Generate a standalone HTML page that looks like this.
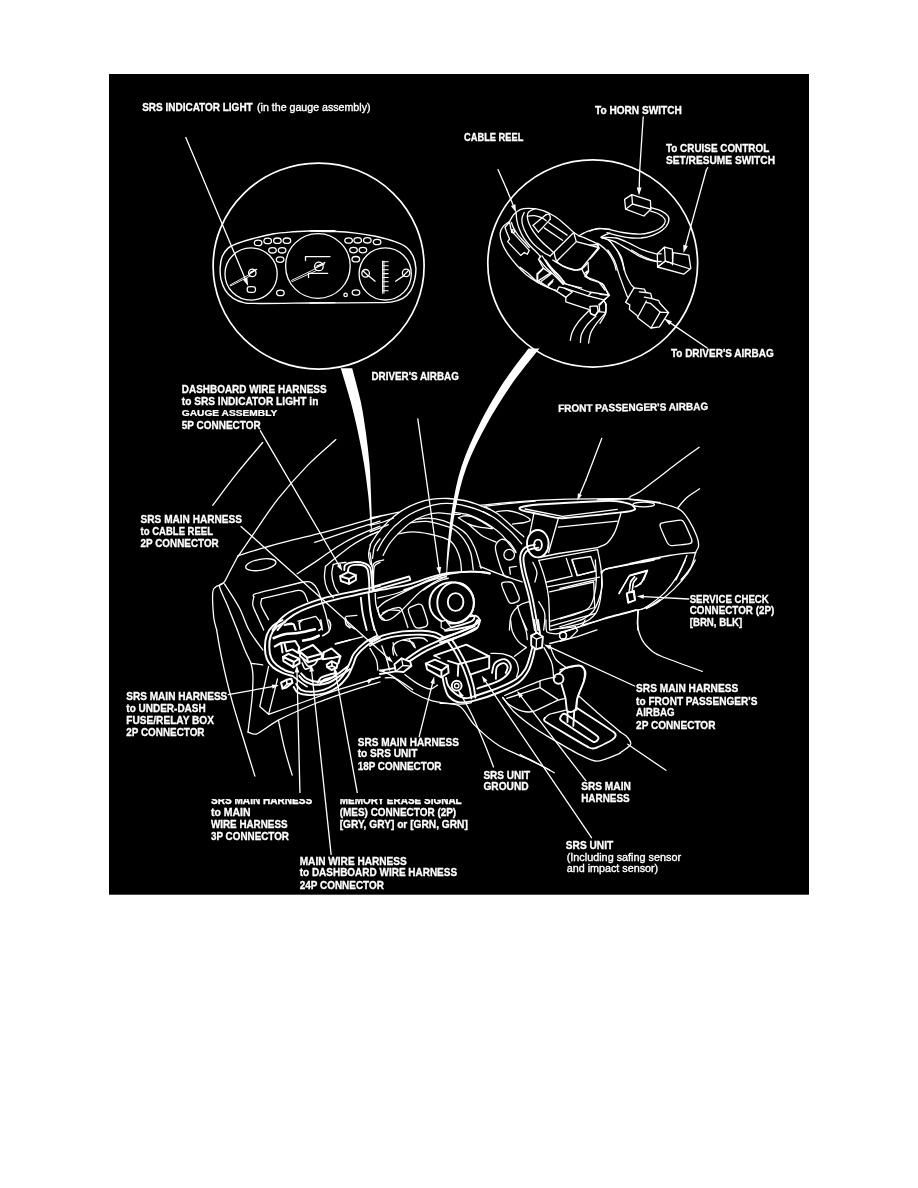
<!DOCTYPE html>
<html lang="en"><head><meta charset="utf-8"><title>SRS Component Locations</title>
<style>
html,body{margin:0;padding:0;background:#fff;}
body{width:918px;height:1188px;overflow:hidden;position:relative;}
svg{position:absolute;left:0;top:0;display:block;will-change:transform;}
.t{font-family:"Liberation Sans",Arial,Helvetica,sans-serif;font-size:10.6px;fill:#fff;}
.b{font-weight:bold;stroke:#fff;stroke-width:0.3px;}
.n{stroke:#fff;stroke-width:0.35px;}
.l{fill:none;stroke:#fff;stroke-width:1.3;stroke-linecap:round;stroke-linejoin:round;}
.w{fill:#fff;stroke:none;}
.k{fill:#000;stroke:#fff;stroke-width:1.15;stroke-linejoin:round;}
</style></head><body>
<svg width="918" height="1188" viewBox="0 0 918 1188">
<rect x="109" y="74" width="700" height="820.7" fill="#000"/>
<!-- 00_base.py -->
<ellipse class="l" style="stroke-width:1.7" cx="318.6" cy="266.1" rx="105.5" ry="103"/>
<ellipse class="l" style="stroke-width:1.7" cx="592.7" cy="263.5" rx="104.9" ry="103.6"/>
<path class="w" d="M340.7,368.2 C342.4,373.8 347.8,390.9 350.7,401.7 C353.6,412.5 355.9,422.4 358.1,432.8 C360.3,443.2 362.3,453.5 364,463.9 C365.7,474.3 367.2,486 368.2,495.1 C369.2,504.2 369.6,512.2 370.1,518.4 C370.6,524.5 371,529.7 371.2,532 L371.8,532 C371.8,529.7 371.8,524.5 371.7,518.4 C371.6,512.2 371.4,504.2 371,495.1 C370.6,486 370.4,474.3 369.5,463.9 C368.6,453.5 367.3,443.2 365.9,432.8 C364.4,422.4 363.1,412.5 360.8,401.7 C358.5,390.9 353.6,373.8 352.2,368.2 Z"/>
<path class="w" d="M528.5,348.4 C524.4,354 511.9,369.5 503.7,382.1 C495.5,394.7 486.5,410.2 479.5,424.2 C472.5,438.2 466.2,452.3 461.6,466.3 C457,480.3 454.5,494.4 452.1,508.4 C449.7,522.4 448.3,538.9 447.3,550.5 C446.3,562.1 446.4,573.4 446.2,578 L446.8,578 C447.2,573.4 447.9,562.1 449.4,550.5 C450.9,538.9 452.8,522.4 455.7,508.4 C458.6,494.4 461.6,480.3 466.8,466.3 C472,452.3 479.1,438.2 486.8,424.2 C494.5,410.2 504.4,394.7 513.2,382.1 C522,369.5 535.1,354 539.5,348.4 Z"/>
<!-- 01_gauges.py -->
<path class="l" style="stroke-width:1.4" d="M335,230.7 C331.3,230.7 320,230.5 313,230.7 C306.1,230.9 300,231.3 293.4,231.8 C286.9,232.3 280.4,232.6 273.8,233.7 C267.3,234.8 260.3,236.7 254.2,238.3 C248.1,239.9 241.6,241.9 237.2,243.5 C232.9,245.2 230.6,245.9 228.1,248.1 C225.6,250.3 223.5,253.4 222.2,256.6 C220.9,259.8 220.4,263.4 220.2,267.1 C220,270.8 220,274.9 220.9,278.8 C221.8,282.7 223.4,287.3 225.5,290.6 C227.5,293.9 230.3,296.4 233.3,298.4 C236.4,300.4 240.3,301.8 243.8,302.6 C247.2,303.4 245.9,303.3 254.2,303.4 C262.5,303.5 280,303.3 293.4,303.1 C306.9,303 328.1,302.7 335,302.6"/>
<circle class="l" cx="251.1" cy="274" r="26.1"/>
<circle class="l" cx="252.3" cy="272.9" r="3.7"/>
<path class="l" style="stroke-width:0.9" d="M249.2,274.6 L230,285 L230.4,286 L250.3,275.9"/>
<path class="l" d="M249.6,273.9 L254.9,270.3"/>
<path class="l" d="M250.3,272.3 L256.6,269.4"/>
<path class="l" d="M248.3,286.9 C249,286.8 253.5,286.8 254.2,286.9 C254.9,287.1 255.2,287.8 255.3,288.2 C255.4,288.6 255.4,290.5 255.3,290.8 C255.1,291.2 254.6,292 254,292.2 C253.3,292.3 249.4,292.3 248.7,292.2 C248.1,292 247.5,291.2 247.4,290.8 C247.3,290.5 247.3,288.6 247.4,288.2 C247.5,287.8 247.7,287.1 248.3,286.9 Z"/>
<ellipse class="l" cx="258.1" cy="242.9" rx="3.8" ry="2.7"/>
<ellipse class="l" cx="267.7" cy="240.9" rx="3.8" ry="2.7"/>
<ellipse class="l" cx="277.4" cy="240.7" rx="3.8" ry="2.7"/>
<ellipse class="l" cx="286.9" cy="240.7" rx="3.8" ry="2.7"/>
<ellipse class="l" cx="272.5" cy="250.3" rx="3.8" ry="2.7"/>
<ellipse class="l" cx="282.1" cy="250.3" rx="3.8" ry="2.7"/>
<ellipse class="l" cx="280.1" cy="259.6" rx="3.8" ry="2.7"/>
<ellipse class="l" cx="280.4" cy="292.9" rx="3.8" ry="2.7"/>
<circle class="l" cx="317.9" cy="266" r="32.3"/>
<circle class="l" cx="318.9" cy="266.4" r="4.3"/>
<path class="l" style="stroke-width:0.9" d="M315.7,268.6 L291.5,280.4 L292.1,281.7 L317,270.3"/>
<path class="l" d="M315.9,267.7 L324.2,263.8"/>
<path class="l" d="M317,266 L324.8,262.5"/>
<path class="l" d="M305.5,260.5 L305.5,256.6 L330,256.6"/>
<path class="l" d="M308.5,277.5 L308.5,273.3 L327.7,273.3"/>
<path class="l" d="M185.8,137.5 L245.1,278.6"/>
<path class="w" d="M248.2,286 L242.9,279.6 L247.3,277.7 Z"/>
<path class="l" style="stroke-width:1.4" d="M310,231.1 C314.4,231.2 328.5,231.2 336.1,231.5 C343.8,231.8 349.2,232.3 355.8,233.1 C362.3,233.9 368.8,234.9 375.4,236.3 C381.9,237.8 389.7,239.7 395,241.6 C400.2,243.4 403.7,244.9 406.7,247.5 C409.8,250 411.7,253.1 413.3,256.6 C414.8,260.1 415.7,264.4 415.9,268.4 C416.1,272.3 415.4,276.4 414.6,280.1 C413.7,283.8 412.6,287.5 410.7,290.6 C408.7,293.6 406.1,296.5 402.8,298.4 C399.5,300.3 395.6,301.4 391,302.1 C386.5,302.8 388.9,302.5 375.4,302.6 C361.9,302.8 320.9,302.9 310,303"/>
<circle class="l" cx="385.2" cy="273.9" r="26.1"/>
<ellipse class="l" cx="348.6" cy="240.5" rx="3.8" ry="2.7"/>
<ellipse class="l" cx="357.7" cy="240.3" rx="3.8" ry="2.7"/>
<ellipse class="l" cx="367.3" cy="240.3" rx="3.8" ry="2.7"/>
<ellipse class="l" cx="377.1" cy="242" rx="3.8" ry="2.7"/>
<ellipse class="l" cx="353.5" cy="250.1" rx="3.8" ry="2.7"/>
<ellipse class="l" cx="362.9" cy="250.1" rx="3.8" ry="2.7"/>
<ellipse class="l" cx="355.8" cy="259.2" rx="3.8" ry="2.7"/>
<ellipse class="l" cx="356" cy="292.5" rx="3.8" ry="2.7"/>
<circle class="l" cx="345.6" cy="294.9" r="1.7"/>
<circle class="l" cx="365.6" cy="273.3" r="3.8"/>
<path class="l" d="M362.9,270.7 L368.2,275.9"/>
<path class="l" d="M368.2,275.6 L375.1,281.2"/>
<circle class="l" cx="406.1" cy="272.9" r="3.7"/>
<path class="l" d="M408.7,270.3 L403.5,275.6"/>
<path class="l" d="M403.9,275.6 L395.6,281.2"/>
<path class="l" style="stroke-width:1.2" d="M382.7,261.2 L382.7,293.2"/>
<path class="l" style="stroke-width:0.9" d="M384,261.2 L384,293.2"/>
<path class="l" style="stroke-width:1.1" d="M382.7,261.8 L388.2,261.8"/>
<path class="l" style="stroke-width:1.1" d="M382.7,265.8 L388.2,265.8"/>
<path class="l" style="stroke-width:1.1" d="M382.7,269.7 L388.2,269.7"/>
<path class="l" style="stroke-width:1.1" d="M382.7,273.6 L388.2,273.6"/>
<path class="l" style="stroke-width:1.1" d="M382.7,277.5 L388.2,277.5"/>
<path class="l" style="stroke-width:1.1" d="M382.7,281.7 L388.2,281.7"/>
<path class="l" style="stroke-width:1.1" d="M382.7,286.3 L388.2,286.3"/>
<path class="l" style="stroke-width:1.1" d="M382.7,290.8 L388.2,290.8"/>
<!-- 02_reel.py -->
<path class="l" d="M507,190 L513.1,205.1"/>
<path class="w" d="M516.1,212.5 L510.9,206 L515.4,204.2 Z"/>
<path class="l" d="M509.6,221.4 C508.5,222.2 504.6,224.6 503.1,226.6 C501.5,228.6 500.4,230.5 500.2,233.1 C500,235.8 500.6,239 501.8,242.3 C502.9,245.6 504.6,249 507,252.7 C509.4,256.4 512.9,260.8 516.1,264.5 C519.4,268.2 522.9,271.9 526.6,275 C530.3,278 534.7,280.6 538.4,282.8 C542.1,285 546,286.8 548.8,288 C551.7,289.2 554.3,289.7 555.4,290"/>
<path class="l" d="M509.6,221.4 C510.3,220.3 511.8,216.8 513.5,214.8 C515.3,212.9 517.5,210.7 520.1,209.6 C522.7,208.5 525.5,208.2 529.2,208.3 C532.9,208.4 537.9,208.8 542.3,210.3 C546.6,211.7 551.4,214.3 555.4,216.8 C559.3,219.3 562.8,222.7 565.8,225.3 C568.9,227.9 572.4,231.3 573.7,232.5"/>
<path class="l" d="M516.1,212.9 C516.3,214.1 516.3,217.3 516.8,220.1 C517.3,222.8 518.2,226.2 519.4,229.2 C520.6,232.3 522.1,235.5 524,238.4 C525.8,241.2 528.1,243.6 530.5,246.2 C532.9,248.8 536.7,252.3 538.4,254.1 C540,255.8 540,256.2 540.3,256.7"/>
<path class="l" d="M524.2,212.5 C523.9,213.4 522.3,216 522,218.1 C521.8,220.2 521.9,222.6 522.7,225.3 C523.4,228 524.9,231.4 526.6,234.4 C528.3,237.5 530.5,240.8 533.1,243.6 C535.8,246.4 539.5,249.4 542.3,251.4 C545.1,253.5 548.8,255.3 550.1,256"/>
<path class="l" d="M535.1,208.6 C534.1,209.1 530.5,210.3 529.2,211.6 C527.9,212.8 527.3,214.1 527.3,216.1 C527.3,218.2 528,221.2 529.2,224 C530.4,226.8 532.3,230.1 534.4,233.1 C536.6,236.2 539.5,239.4 542.3,242.3 C545.1,245.2 549.4,248.6 551.4,250.4 C553.4,252.2 553.8,252.6 554.3,253"/>
<path class="l" d="M527.9,216.1 C529,216.1 532.2,215.4 534.4,215.6 C536.7,215.9 539.7,216.9 541.6,217.7 C543.6,218.6 545.4,220.2 546.2,220.7"/>
<path class="l" d="M533.1,225.3 L545.9,214.8"/>
<path class="l" d="M538.4,232.1 L550.1,219.4"/>
<path class="l" d="M545.9,214.8 C546.3,214.7 547.5,214 548.2,214.2 C548.9,214.4 549.8,215.3 550.1,216.1 C550.5,217 550.1,218.9 550.1,219.4"/>
<path class="l" d="M533.1,225.3 L538.4,232.1"/>
<path class="l" d="M544.2,227.9 L562.5,240.3"/>
<path class="l" d="M548.8,222.7 L567.1,235.1"/>
<path class="l" d="M573.7,232.5 L550.1,256"/>
<path class="l" d="M576.3,241.6 L556.7,261.2"/>
<path class="l" d="M573.7,232.5 L576.3,241.6 L598.5,247.5 L581.5,268.4"/>
<path class="l" d="M554.1,252.7 C554.5,254.2 555.1,259 556.7,261.2 C558.2,263.5 560.4,265 563.2,266.5 C566,267.9 570.6,269.7 573.7,270 C576.7,270.3 580.2,268.7 581.5,268.4"/>
<path class="l" d="M578.9,235.8 L584.1,237.7 L597.2,243.6 L598.5,247.5"/>
<path class="l" d="M573.7,232.5 L578.9,235.8"/>
<path class="l" d="M578.9,235.8 C579.8,235.3 581.9,233.9 584.1,232.9 C586.3,231.9 589.1,230.6 592,229.9 C594.8,229.2 598.1,228.7 601.1,228.6 C604.1,228.5 608.5,229.1 610,229.2"/>
<path class="l" d="M601.1,237.1 C602,236.6 604.9,235.1 606.3,234.4 C607.8,233.8 609.4,233.4 610,233.1"/>
<path class="l" d="M601.1,237.1 C602,237.4 604.9,238.3 606.3,239 C607.8,239.7 609.4,240.9 610,241.2"/>
<path class="l" d="M509.6,222 L505,227.3 L507,233.1 L509.6,239 L507.6,241.6 L520.7,255.4 L524.2,252.5 L527.3,254.3 L529.2,250.4 L513.5,233.1 L510.9,229.2 L509.6,222"/>
<circle class="l" cx="512.9" cy="231.2" r="1.6"/>
<path class="l" d="M511.6,222.7 C511.9,223.6 512.4,225.8 513.5,227.9 C514.6,230 516.3,232.7 518.1,235.1 C520,237.5 522.8,240.2 524.6,242.3 C526.5,244.4 528.5,246.6 529.2,247.5"/>
<path class="l" d="M541,256 L538.4,259.3 L543.6,268.4 L537.7,274.3 L537.7,280.2 L547.5,286.7 L552.7,281.5"/>
<path class="l" d="M543.6,268.4 L551.4,273.7 L541,281.5"/>
<path class="l" d="M542.3,256 C543.2,257.4 545.8,262 547.5,264.5 C549.3,267 550.1,268 552.7,271 C555.4,274.1 559.7,280.3 563.2,282.8 C566.7,285.3 570.6,285.2 573.7,286.1 C576.7,286.9 580.2,287.7 581.5,288"/>
<path class="l" d="M546.2,261.2 C547.1,262.4 549.5,266.1 551.4,268.4 C553.4,270.7 555.8,272.7 558,275 C560.2,277.3 563.4,281 564.5,282.2"/>
<path class="l" d="M581.5,268.4 L584.1,273.7 L587.4,271 L586.1,276.9 L598.5,281.5 L605,290"/>
<path class="l" d="M584.1,273.7 L589.3,278.9"/>
<path class="l" d="M520,267.2 C521.3,268.2 525,270.7 527.8,273.1 C530.7,275.5 533.9,279.4 537,281.6 C540,283.7 542.9,284.5 546.1,286.1 C549.4,287.8 553.3,289.5 556.6,291.4 C559.9,293.2 564.2,296.3 565.8,297.3"/>
<path class="l" d="M565.8,297.3 L565.8,301.8 L589.3,309.7 L590.6,313.6 L595.2,315.6 L598.4,310.3"/>
<path class="l" d="M537,281.6 L537,273.7 L542.9,268.5"/>
<path class="l" d="M539.6,260 C540.7,261.3 544.2,265.8 546.1,267.8 C548.1,269.9 548.5,269.7 551.4,272.4 C554.2,275.1 561.2,282.2 563.1,284.2"/>
<path class="l" d="M545.5,260 C546.5,261.3 549.1,265.2 551.4,267.8 C553.7,270.5 556.9,273.1 559.2,275.7 C561.5,278.3 564.1,282.2 565.1,283.5"/>
<path class="l" d="M537,281.6 L551.4,272.4"/>
<path class="l" d="M548.1,284.8 L553.3,279.6"/>
<path class="l" d="M556.6,291.4 L559.2,286.8 L564.4,288.1 L572.3,292 L565.8,297.3"/>
<path class="l" d="M563.1,284.2 L565.1,283.5 L589.3,292 L606.3,294.6 L609.5,295.3"/>
<path class="l" d="M564.4,288.1 L588,295.9 L603.7,299.9 L606.3,297.9"/>
<path class="l" d="M588,295.9 L591.2,292.7"/>
<path class="l" d="M588,262.6 L588.6,271.8 L584.7,276.3 L590.6,279.6 L602.4,283.5 L609.5,295.3 L603.7,300.5 L606.3,304.4 L605.6,312.3 L598.4,311.6"/>
<path class="l" d="M552.7,260 C554.4,261 559.4,264.2 563.1,265.9 C566.8,267.5 571.9,269.3 574.9,269.8 C578,270.3 579.3,270.3 581.4,269.2 C583.6,268 586.9,263.7 588,262.6"/>
<path class="l" d="M589.9,306.4 L597.1,305.8 L598.4,311.6 L595.2,315.6 L590.6,313.6 L589.9,306.4"/>
<path class="l" d="M599.1,304.4 L603.7,300.5"/>
<path class="l" d="M599.1,304.4 L599.7,311"/>
<path class="l" d="M588.6,311 C587,312.7 581.5,318 578.8,321.4 C576.1,324.9 573.7,328.7 572.3,331.9 C570.9,335.1 570.7,339 570.3,340.4"/>
<path class="l" d="M595.8,316.2 C594.3,317.7 589.1,322.3 586.7,325.4 C584.3,328.4 582.5,331.7 581.4,334.5 C580.4,337.3 580.6,341 580.4,342.4"/>
<path class="l" d="M605.6,312.9 C604.2,314.6 599.6,319.4 597.1,322.7 C594.6,326.1 592,329.8 590.6,333.2 C589.2,336.6 589,341.4 588.6,343"/>
<path class="l" d="M639.7,170 L639.2,187.5"/>
<path class="w" d="M639,195.5 L636.8,187.4 L641.6,187.6 Z"/>
<path class="l" d="M624.6,199.4 L631.8,194.6 L632.5,204 L625.6,209.2 Z"/>
<path class="l" d="M631.8,194.6 L650.4,200.7 L650.8,209.2 L632.5,204"/>
<path class="l" d="M625.6,209.2 L643.9,216 L650.8,209.2"/>
<path class="l" d="M650.8,207.6 C652.5,208.2 658.3,209.3 661.2,210.8 C664.1,212.2 667,214.4 668.2,216.4 C669.3,218.4 669.1,220.7 668.2,222.9 C667.2,225.2 665.1,228.1 662.5,230.1 C660,232.2 656.3,234.1 652.7,235.4 C649.2,236.7 645.3,237.6 641,238 C636.6,238.3 632.3,238.2 626.6,237.3 C620.9,236.4 610.3,233.5 607,232.7"/>
<path class="l" d="M650.8,211.2 C652.2,211.7 656.9,212.9 659.3,214.2 C661.6,215.5 663.9,217.5 664.8,219 C665.6,220.6 665.4,222 664.5,223.6 C663.6,225.2 661.7,227.3 659.3,228.8 C656.9,230.3 653.4,231.6 650.1,232.5 C646.9,233.4 644.2,234.1 639.7,234.1 C635.1,234.1 628.1,233.3 622.7,232.5 C617.2,231.7 611.4,229.7 607,229.1 C602.6,228.4 599.4,228.2 596.5,228.6 C593.7,228.9 591.1,230.7 590,231.2"/>
<path class="l" d="M601.8,237.3 C604.2,237.4 611.6,237 616.1,238 C620.7,239 624.9,241.2 629.2,243.2 C633.6,245.2 637.9,248 642.3,249.7 C646.6,251.5 652.2,253 655.4,253.7 C658.5,254.3 660.3,253.7 661.2,253.7"/>
<path class="l" d="M601.8,238 C603.7,238.5 609.4,239.5 613.5,241.2 C617.7,243 622.2,245.9 626.6,248.4 C631,250.9 635.3,254.2 639.7,256.3 C644,258.3 649.2,260 652.7,260.8 C656.3,261.7 659.8,261.4 661.2,261.5"/>
<path class="l" d="M706.3,170 L685.6,245.3"/>
<path class="w" d="M683.5,253 L683.3,244.7 L687.9,245.9 Z"/>
<path class="l" d="M590,245.2 L597.8,244.5 L599.2,248.4 L590,258.9"/>
<path class="l" d="M597.8,243.2 C599.4,244.5 604.4,248 607,251 C609.6,254.1 612,258.3 613.5,261.5 C615.1,264.7 615.7,268.6 616.1,270"/>
<path class="l" d="M609.6,240.6 C610.9,242.3 615.4,247.6 617.5,251 C619.5,254.5 620.9,258.3 622,261.5 C623.2,264.7 623.9,268.6 624.2,270"/>
<path class="l" d="M657.5,267 L665.4,261.1 L690.2,269 L683.7,274.2 Z"/>
<path class="l" d="M657.3,253.7 L664.5,247.1 L665.3,261.1 L657.6,267 Z"/>
<path class="l" d="M664.5,247.1 L672.4,249.1 L672.6,263.5 L665.3,261.1"/>
<path class="l" d="M673.1,252.6 L688.8,255.2 L690.8,268.3"/>
<path class="l" d="M673.1,252.6 L672.4,264.8"/>
<path class="l" d="M631.4,250 C633.3,251.1 638.8,254.6 643.1,256.5 C647.5,258.5 655.1,260.9 657.5,261.8"/>
<path class="l" d="M634,287.9 L644.4,289.2 L646,292.5 L650.7,293.4 L652,298.6 L658.8,300.7 L659.9,303.3 L668.6,312.7 L659.5,326.9 L651,328 L637.9,318 L637,315.4 L632,311.4 L629.4,309.5 L629.8,304.9 L625.5,302.3 Z"/>
<path class="l" d="M668.6,312.7 L660.1,312.1 L651,328"/>
<path class="l" d="M660.1,312.1 L650.3,303.3 L646,302.3"/>
<path class="l" d="M646.4,301 L637.9,316.7"/>
<path class="l" d="M639.2,291.8 L646,292.5"/>
<path class="l" d="M644.4,297.1 L652,298.6"/>
<path class="l" d="M707.2,348 L670.7,323.1"/>
<path class="w" d="M664.1,318.6 L672,321.2 L669.3,325.1 Z"/>
<path class="l" d="M607.8,250 C608.9,251.7 612.4,256.1 614.4,260.5 C616.3,264.8 617.4,270 619.6,276.1 C621.8,282.2 626.1,293.6 627.5,297.1"/>
<path class="l" d="M617,250 C617.8,251.3 620.2,253.9 621.6,257.8 C623,261.8 624,269.2 625.5,273.5 C627,277.9 629.3,281.6 630.7,284 C632.2,286.4 633.7,287.3 634.2,287.9"/>
<path class="l" d="M600,282.7 L603.9,285.3 L608.5,295.1 L600,294.4"/>
<path class="l" d="M605.9,298.4 L600,304.9"/>
<path class="l" d="M605.2,302.3 C605.3,304 606.8,309.3 605.9,312.7 C605,316.2 601,321.5 600,323.2"/>
<!-- 03_dashA.py -->
<path class="l" d="M262.7,442.5 C258.5,447.6 245.6,462.5 237.3,472.9 C228.9,483.4 216.8,499.9 212.7,505.3"/>
<path class="l" d="M335.9,439.6 C331.2,443.9 317.4,455.3 307.8,465.1 C298.3,474.9 287.3,487.3 278.4,498.4 C269.6,509.5 261.6,522.1 254.9,531.8 C248.2,541.4 241,552.2 238.2,556.3"/>
<path class="l" d="M238.2,555.5 C236.8,558.3 231.9,567.6 229.4,572.2 C227,576.7 225.8,580.5 223.5,582.9 C221.2,585.4 217.5,585.2 215.7,586.9 C213.9,588.5 213.1,587.7 212.7,592.7 C212.4,597.8 213.1,611 213.7,617.3 C214.4,623.5 216.2,627.9 216.7,630"/>
<path class="l" d="M238.2,555.5 C244.9,553.5 265.2,547.3 278.4,543.7 C291.7,540.1 305.2,537.2 317.6,533.9 C330.1,530.7 342.5,527.1 352.9,524.1 C363.3,521.2 375.5,517.6 380,516.3"/>
<path class="l" d="M314.7,542.4 C318.5,541.1 329.6,537.5 337.3,534.9 C344.9,532.4 353.7,529.3 360.8,527.1 C367.9,524.8 376.8,522.2 380,521.2"/>
<path class="l" d="M297.1,573.7 C300.5,571.5 310.9,564.9 317.6,560.4 C324.3,555.9 330.7,550.8 337.3,546.7 C343.8,542.6 349.7,539.3 356.9,535.9 C364,532.5 376.1,527.7 380,526.1"/>
<path class="l" d="M325.5,566.3 C327.5,564.6 332.7,560.1 337.3,556.5 C341.8,552.9 347.7,548.1 352.9,544.7 C358.2,541.3 364.1,538.2 368.6,535.9 C373.1,533.6 378.1,531.8 380,531"/>
<ellipse class="l" cx="260.8" cy="564.7" rx="15.3" ry="5.5" transform="rotate(-10 260.8 564.7)"/>
<path class="l" d="M223.5,582.9 C222.9,583.6 219,583.1 219.6,586.9 C220.3,590.6 224.5,598.3 227.5,605.5 C230.4,612.7 235.6,625.9 237.3,630"/>
<path class="l" d="M224.5,583.9 C227,587.8 235.1,599.8 239.2,607.5 C243.3,615.1 245.1,622.9 249,630 C253,637.1 260.6,646.7 262.9,650"/>
<path class="l" d="M253.9,596.7 C254.1,596.4 250.9,595.2 255.9,593.7 C260.9,592.3 298.3,583 303.9,582 C309.5,580.9 310.4,582.2 311.8,582.9 C313.1,583.7 316.3,586.8 317.6,589.8 C319,592.8 324.3,609.3 325.5,613.3 C326.7,617.4 329,628.3 329.4,630"/>
<path class="l" d="M253.9,596.7 C253.8,598.1 252.1,601.7 252.9,605.5 C253.8,609.2 257,615.1 258.8,619.2 C260.6,623.3 262.9,628.2 263.7,630"/>
<path class="l" d="M261.8,598.6 C265.4,597.8 293.8,591 298,590.4 C302.3,589.8 302.9,591.6 303.9,592.7 C304.9,593.9 307.5,600.7 307.8,601.6"/>
<path class="l" d="M261.8,598.6 C261.7,599.8 260,602 261.2,605.5 C262.3,609 267.4,617.3 268.6,619.6"/>
<path class="l" style="stroke-width:1.9" d="M380,585.9 C376.1,586.7 365.9,588.8 356.9,590.8 C347.8,592.7 335.3,594.9 325.5,597.6 C315.7,600.4 305.2,604.2 298,607.5 C290.8,610.7 286.6,613.5 282.4,617.3 C278.1,621 274.2,627.9 272.5,630"/>
<path class="l" style="stroke-width:1.9" d="M380,589.8 C376.1,590.6 365.6,592.7 356.9,594.7 C348.1,596.7 336.6,599 327.5,601.6 C318.3,604.2 308.8,607.3 302,610.4 C295.1,613.5 290.4,616.9 286.3,620.2 C282.2,623.5 278.9,628.4 277.5,630"/>
<path class="l" d="M325.5,566.3 C325.3,568.2 324.2,574.1 324.5,578 C324.8,582 326,586.5 327.5,589.8 C328.9,593.1 332.4,596.3 333.3,597.6"/>
<path class="l" d="M333.3,564.3 C333.1,565.9 331.6,570.5 331.8,574.1 C331.9,577.7 333.2,582.8 334.3,585.9 C335.4,589 337.6,591.6 338.2,592.7"/>
<path class="l" d="M333.3,564.3 C334.6,564.1 339.1,563.3 341.2,562.9 C343.3,562.6 345.3,562.5 346.1,562.4"/>
<path class="l" style="stroke-width:1.9" d="M344.3,570 C344.5,569.2 343.8,566.2 345.3,564.9 C346.8,563.6 349.9,562.4 353.1,562.2 C356.4,561.9 362.1,562.4 364.9,563.3 C367.7,564.3 369.1,565.4 370.2,568 C371.3,570.7 371.4,575.6 371.8,579.2 C372.2,582.8 372.4,587.9 372.5,589.6"/>
<path class="l" style="stroke-width:1.9" d="M347.8,571.4 C348.1,570.6 348.1,567.9 349.2,566.9 C350.3,565.8 352.1,565.1 354.5,564.9 C356.9,564.7 361.4,564.7 363.5,565.5 C365.7,566.2 366.5,567.1 367.5,569.4 C368.4,571.7 368.7,575.7 369,579.2 C369.3,582.7 369.3,588.5 369.4,590.4"/>
<path class="k" style="stroke-width:1.9" d="M340.2,576.1 L348,572.2 L355.9,575.1 L349,579 Z"/>
<path class="l" style="stroke-width:1.9" d="M340.2,576.1 L340.8,581 L349,583.9 L349,579"/>
<path class="l" style="stroke-width:1.9" d="M355.9,575.1 L355.9,580 L349,583.9"/>
<path class="l" d="M370.6,544.7 C370.3,546.3 368.6,551.2 368.6,554.5 C368.6,557.8 370.3,562.7 370.6,564.3"/>
<path class="l" d="M380,538.8 C379.1,540.1 375.8,543.4 374.5,546.7 C373.3,549.9 372.9,556.5 372.5,558.4"/>
<path class="l" d="M380,562.4 C379.1,563 375.6,563.7 374.5,566.3 C373.4,568.9 373.7,574.1 373.5,578 C373.4,582 373.5,587.8 373.5,589.8"/>
<path class="l" d="M284.3,625.1 L294.1,624.1 L296.1,630"/>
<path class="l" d="M298,621.2 L315.7,616.3 L319.6,621.2 L322.5,630"/>
<path class="l" d="M345.1,617.3 C345.8,618.6 347.4,623.1 349,625.1 C350.7,627.1 353.9,628.4 354.9,629"/>
<path class="l" d="M346.1,616.3 L356.9,615.3"/>
<path class="l" style="stroke-width:1.9" d="M360.8,597.6 C361.1,600.3 361.8,607.9 362.7,613.3 C363.7,618.7 366,627.2 366.7,630"/>
<path class="l" style="stroke-width:1.9" d="M368.6,593.7 C369,597 369.6,607.3 370.6,613.3 C371.6,619.4 373.9,627.2 374.5,630"/>
<path class="l" d="M260.4,430.8 L338.8,565"/>
<path class="w" d="M342.3,571 L336.9,566.1 L340.7,563.8 Z"/>
<path class="l" d="M241,526.5 L387.8,657.8"/>
<path class="w" d="M393,662.5 L386.3,659.5 L389.3,656.2 Z"/>
<!-- 04_dashB.py -->
<path class="l" d="M216.7,630 C217.5,634.9 219.5,648 222,659.4 C224.4,670.8 227.8,685.6 231.4,698.6 C234.9,711.7 239.2,724.9 243.1,737.8 C247.1,750.8 252.9,769.7 254.9,776.1"/>
<path class="l" d="M237.3,630 C238.6,633.6 243.2,646 245.5,651.6 C247.8,657.1 249.7,659.4 251,663.3 C252.2,667.3 252.8,669.2 252.9,675.1 C253.1,681 252.8,689.2 252,698.6 C251.1,708.1 248.7,726.4 248,732"/>
<path class="l" d="M251,663.3 L262.7,664.9"/>
<path class="l" d="M248,732 C249.1,732.2 253.3,735.3 256.9,733.9 C260.4,732.5 271.3,723.9 278.4,720.2 C285.5,716.5 308.5,706.2 317.6,702.5 C326.8,698.9 349.6,691.2 356.9,688.8 C364.1,686.4 377.3,682.8 380,682"/>
<path class="l" d="M278.4,720.2 C279.4,724.8 282,738.5 284.3,747.6 C286.6,756.8 290.8,770.5 292.2,775.1"/>
<path class="l" d="M268.6,666.3 L259.8,706.5 L268.6,714.3 L302,702.5 L337.3,689.8 L380,677.1"/>
<path class="l" d="M268.6,714.3 L277.5,679"/>
<path class="l" d="M335.3,643.7 L362.7,636.9"/>
<path class="l" style="stroke-width:2.0" d="M282.5,620 C280.9,621 275.4,623.4 272.7,625.9 C270.1,628.3 268.2,631.1 266.9,634.7 C265.6,638.3 264.9,643.4 264.9,647.5 C264.9,651.5 265.6,655.9 266.9,659.2 C268.2,662.5 270.1,664.8 272.7,667.1 C275.4,669.3 279.3,671.5 282.5,672.9 C285.8,674.4 290.7,675.4 292.4,675.9"/>
<path class="l" style="stroke-width:2.0" d="M285.5,621.5 C283.9,622.5 278.6,625 276.2,627.4 C273.7,629.7 271.9,632.3 270.8,635.7 C269.6,639 269.2,643.7 269.3,647.5 C269.4,651.2 270,655.3 271.3,658.2 C272.5,661.2 274.3,663.1 276.7,665.1 C279,667.1 282.7,669.2 285.5,670.5 C288.3,671.8 292,672.5 293.3,672.9"/>
<path class="l" style="stroke-width:2.6" d="M273.7,638.1 C275.5,637.5 280.3,635.1 284.5,634.2 C288.8,633.3 294.2,633.6 299.2,632.7 C304.3,631.9 312.3,629.9 314.9,629.3"/>
<path class="l" style="stroke-width:2.6" d="M303.1,640.6 C304.4,640.3 308.4,639.9 311,639.1 C313.6,638.3 317.5,636.3 318.8,635.7"/>
<path class="l" style="stroke-width:1.6" d="M284.5,624.9 C285.8,624.7 290.6,622.6 292.4,623.4 C294.2,624.2 294.8,628.7 295.3,629.8"/>
<path class="l" style="stroke-width:1.6" d="M302.2,620 L299.2,622.9 L300.2,629.3"/>
<path class="l" style="stroke-width:1.6" d="M318.8,630.3 C319.3,629.9 321.4,629.6 321.8,627.8 C322.1,626.1 320.9,621.3 320.8,620"/>
<path class="l" style="stroke-width:1.6" d="M322.7,635.7 C323.7,635 327.3,633.6 328.6,631.8 C329.9,630 330.6,626.9 330.6,624.9 C330.6,622.9 329,620.8 328.6,620"/>
<path class="l" style="stroke-width:2.0" d="M274.7,646.5 L281.1,643 L295.3,641.1 L299.2,647.5 L298.2,652.4"/>
<path class="l" style="stroke-width:2.0" d="M281.1,643 L282.5,652.4"/>
<path class="l" style="stroke-width:2.0" d="M284.5,643.5 L286.5,651.4 L292.4,649.4 L298.2,652.8"/>
<path class="k" style="stroke-width:2.0" d="M283,656.8 L288.4,653.8 L299.2,658.7 L293.8,662 Z"/>
<path class="k" style="stroke-width:2.0" d="M283,656.8 L283.5,661.2 L293.3,667.1 L293.8,662 Z"/>
<path class="l" style="stroke-width:2.0" d="M299.2,658.7 L299.7,663.1 L293.3,667.1"/>
<path class="k" style="stroke-width:2.0" d="M299.2,651.4 L312.9,645 L321.8,653.8 L307.1,657.7 Z"/>
<path class="k" style="stroke-width:2.0" d="M299.2,651.4 L300.2,656.3 L308,662.2 L307.1,657.7 Z"/>
<path class="l" style="stroke-width:2.0" d="M321.8,653.8 L321.8,658.2 L308,662.2"/>
<path class="l" style="stroke-width:2.0" d="M323.7,652.4 L331.6,648.4 L340.4,656.3 L338.4,663.1"/>
<path class="l" style="stroke-width:2.0" d="M323.7,652.4 L322.7,659.2 L333.5,657.7 L340.4,656.3"/>
<path class="k" style="stroke-width:2.0" d="M326.7,664.6 L331.6,661.2 L337.5,664.1 L336.5,668 L331.6,670 L327.2,667.1 Z"/>
<path class="l" style="stroke-width:1.6" d="M331.6,661.2 L332.1,666.1 L336.5,668"/>
<path class="l" style="stroke-width:1.6" d="M327.2,667.1 L332.1,666.1"/>
<path class="k" style="stroke-width:2.0" d="M281.1,682.7 L286.5,679.8 L291.4,678.8 L292.4,682.7 L286.5,687.6 L282.5,688.6 Z"/>
<path class="l" style="stroke-width:1.6" d="M286.5,679.8 L287,684.2 L282.5,688.6"/>
<path class="l" style="stroke-width:1.6" d="M287,684.2 L292.4,682.7"/>
<path class="l" style="stroke-width:2.0" d="M299.2,675.9 C300,676.7 301.5,679.3 304.1,680.8 C306.7,682.3 310.8,684.4 314.9,684.7 C319,685 324.7,684.1 328.6,682.7 C332.5,681.4 334.9,679.2 338.4,676.9 C342,674.6 348.1,670.3 350,669"/>
<path class="l" style="stroke-width:2.0" d="M301.2,673.4 C302.2,674.3 304.4,677.4 307.1,678.8 C309.7,680.2 313.4,681.6 316.9,681.8 C320.3,682 324.4,681.1 327.6,680 C330.9,678.9 333,677.2 336.5,674.9 C339.9,672.6 346.3,667.5 348.2,666.1"/>
<path class="l" style="stroke-width:2.0" d="M317.8,682.7 C318.3,681.9 319,679.2 320.8,677.8 C322.6,676.5 326.3,675.6 328.6,674.9 C330.9,674.2 333.5,673.7 334.5,673.4"/>
<path class="l" style="stroke-width:2.0" d="M319.8,684.7 C320.5,683.9 321.9,680.9 323.7,679.8 C325.5,678.7 328.6,678.5 330.6,677.8 C332.5,677.2 334.7,676.2 335.5,675.9"/>
<path class="l" style="stroke-width:1.6" d="M302.2,663.1 C302.6,664.1 303.6,668.4 305.1,669 C306.6,669.7 310,667.4 311,667.1"/>
<path class="l" style="stroke-width:1.6" d="M303.1,659.2 C304,660.4 306.1,665.3 308,666.1 C310,666.9 313.3,665.3 314.9,664.1 C316.5,663 317.4,660 317.8,659.2"/>
<path class="l" style="stroke-width:1.6" d="M335.5,644 L350,640.1"/>
<path class="l" style="stroke-width:1.6" d="M345.3,620 C345.5,620.8 345.5,623.6 346.3,624.9 C347.1,626.2 349.4,627.4 350,627.8"/>
<path class="l" style="stroke-width:1.6" d="M292.4,675.9 C293,676.4 294.8,677.7 296.3,678.8 C297.7,680 299.4,681.4 301.2,682.7 C303,684.1 306.1,686 307.1,686.7"/>
<path class="l" style="stroke-width:1.9" d="M293.7,686.9 C294.4,687.8 295.4,691.4 298,692.7 C300.7,694.1 305.2,695 309.8,695.1 C314.4,695.2 320.9,694.4 325.5,693.1 C330.1,691.8 333.7,689.9 337.3,687.3 C340.8,684.6 344.4,680.7 347.1,677.1 C349.7,673.4 351.3,668.9 352.9,665.3 C354.6,661.7 354.6,658.8 356.9,655.5 C359.2,652.2 362.8,648.6 366.7,645.7 C370.5,642.7 377.8,639.2 380,637.8"/>
<path class="l" style="stroke-width:1.9" d="M296.1,683.9 C296.9,684.9 298.5,688.5 301,689.8 C303.4,691.1 307,691.8 310.8,691.8 C314.5,691.8 319.6,691 323.5,689.8 C327.5,688.6 331,686.9 334.3,684.5 C337.6,682.1 340.6,679 343.1,675.5 C345.7,672 347.6,667.4 349.4,663.7 C351.2,660.1 351.4,657 353.9,653.5 C356.4,650.1 360.4,645.9 364.3,642.9 C368.2,639.9 375.3,636.7 377.5,635.5"/>
<path class="l" d="M368.6,680 L380,677.1"/>
<path class="l" d="M367.6,681.4 L371.6,679 L368.6,682.9"/>
<path class="l" d="M300,795 L297,672.5"/>
<path class="w" d="M296.8,665.5 L299.4,672.4 L294.6,672.6 Z"/>
<path class="l" d="M331.1,854.4 L311.7,671.5"/>
<path class="w" d="M311,664.5 L314.1,671.2 L309.4,671.7 Z"/>
<path class="l" d="M357.4,793.4 L335.8,674.4"/>
<path class="w" d="M334.5,667.5 L338.1,674 L333.4,674.8 Z"/>
<path class="l" d="M228.3,694.6 L272.1,686.6"/>
<path class="w" d="M279,685.3 L272.5,688.7 L271.7,684.4 Z"/>
<!-- 05_dashC.py -->
<path class="l" d="M370,544.9 C371.3,542.9 374.8,537.1 377.8,533.1 C380.9,529.2 384.4,525.1 388.3,521.4 C392.2,517.7 396.6,514 401.4,510.9 C406.2,507.9 411.8,505 417.1,503.1 C422.3,501.1 427.5,499.9 432.7,499.2 C438,498.4 443.2,498.3 448.4,498.5 C453.7,498.7 459.3,499.5 464.1,500.5 C468.9,501.4 472.9,502.9 477.2,504.4 C481.5,505.9 487.9,508.7 490,509.6"/>
<path class="l" d="M377.2,550.8 C378.4,548.7 381.4,542.5 384.4,538.4 C387.3,534.2 390.7,529.9 394.8,525.9 C399,522 404.2,517.9 409.2,514.8 C414.2,511.8 419.7,509.5 424.9,507.6 C430.1,505.8 435.8,504.4 440.6,503.7 C445.4,503.1 448.9,503.2 453.7,503.7 C458.5,504.3 464.6,505.7 469.3,507 C474.1,508.3 479,510.2 482.4,511.6 C485.9,513 488.7,514.8 490,515.5"/>
<path class="l" d="M383.1,555.4 C384.2,553.4 387,547.3 389.6,543.6 C392.2,539.9 395.3,536.6 398.8,533.1 C402.2,529.7 406.2,525.6 410.5,522.7 C414.9,519.7 420.3,517.1 424.9,515.5 C429.5,513.9 433.6,513.1 438,512.9 C442.3,512.7 447.3,513.9 451,514.2 C454.7,514.4 458.7,514.3 460.2,514.3"/>
<path class="l" d="M370,518.1 C372.2,517.7 378.3,516.5 383.1,515.5 C387.9,514.5 396.1,512.8 398.8,512.2"/>
<path class="l" d="M370,525.3 C372.2,524.7 379.2,523.2 383.1,522 C387,520.8 391.8,518.8 393.5,518.1"/>
<path class="l" d="M370,531.8 C371.7,531.2 377.4,529.1 380.5,527.9 C383.5,526.7 387,525.2 388.3,524.6"/>
<path class="l" d="M370,535.1 L377.8,531.8"/>
<path class="l" d="M398.1,533.8 C400.6,533.5 408,531.8 413.1,531.8 C418.3,531.8 423.8,532.8 428.8,533.8 C433.8,534.8 439.5,536.4 443.2,537.7 C446.9,539 448.9,539.8 451,541.6 C453.2,543.5 454.7,545.9 456.3,548.8 C457.8,551.8 459.3,555.6 460.2,559.3 C461.1,563 461.3,569.1 461.5,571"/>
<path class="l" d="M410.5,522.7 C413.1,522.5 421.2,521 426.2,521.4 C431.2,521.7 436,523.3 440.6,524.6 C445.2,525.9 449.7,526.7 453.7,529.2 C457.6,531.7 461.3,535.8 464.1,539.7 C466.9,543.6 469.1,547.7 470.7,552.7 C472.2,557.8 472.8,566.9 473.3,569.7"/>
<path class="l" d="M415.8,519.4 C417.9,519.2 424.2,517.9 428.8,518.1 C433.4,518.3 438.6,519.3 443.2,520.7 C447.8,522.1 452.4,524.3 456.3,526.6 C460.2,528.9 463.7,531 466.7,534.4 C469.8,537.9 472.2,541.9 474.6,547.5 C477,553.2 480,564.9 481.1,568.4"/>
<path class="l" style="stroke-width:1.8" d="M404,590 C405.9,589.3 411.6,587.7 415.8,586.1 C419.9,584.4 424.5,581.9 428.8,580.2 C433.2,578.5 436.9,576.9 441.9,575.6 C446.9,574.3 453.4,573 458.9,572.4 C464.3,571.7 469.4,571.5 474.6,571.7 C479.8,571.9 487.4,573.3 490,573.7"/>
<path class="l" d="M423.6,590 C425.1,589 429.5,585.9 432.7,584.1 C436,582.4 440.6,580.5 443.2,579.5 C445.8,578.6 447.6,578.5 448.4,578.2"/>
<path class="l" d="M373.9,589.3 C373.7,585.6 372.2,571.7 372.6,567.1 C373.1,562.5 374.7,563.1 376.5,561.9 C378.4,560.7 382.5,560.3 383.7,559.9"/>
<path class="l" d="M370,552.7 L372,567.1"/>
<path class="l" style="stroke-width:1.9" d="M372.6,587 L409.2,576.5 L410.3,579.8 L373.9,590.3"/>
<path class="l" d="M375.2,593.5 C375.3,595.3 375.2,600.5 375.9,604 C376.5,607.5 377.7,611.8 379.2,614.4 C380.6,617.1 383.5,618.8 384.4,619.7"/>
<path class="l" style="stroke-width:1.8" d="M370,591.6 C373.3,591 383.1,589.5 389.6,588.3 C396.1,587.1 402.7,586.1 409.2,584.4 C415.8,582.6 422.7,579.7 428.8,577.8 C434.9,576 440.4,574.2 445.8,573.3 C451.3,572.3 455.6,572.2 461.5,572 C467.4,571.7 476.4,571.7 481.1,572 C485.9,572.2 488.5,573.1 490,573.3"/>
<path class="l" d="M377.8,598.1 C380.9,597.3 390.3,595.4 396.1,593.5 C402,591.7 407.7,589.1 413.1,587 C418.6,584.9 423.4,582.9 428.8,581.1 C434.3,579.4 443,577.3 445.8,576.5"/>
<path class="l" d="M377.8,607.9 C379.2,606.8 382,603.7 385.7,601.4 C389.4,599.1 395.5,596.5 400.1,594.2 C404.6,591.9 411,588.7 413.1,587.6"/>
<path class="l" d="M380.5,615.8 C381.8,614.9 385.7,611.8 388.3,610.5 C390.9,609.2 394,608.1 396.1,607.9 C398.3,607.7 399.4,605.9 401.4,609.2 C403.3,612.5 406.8,624.5 407.9,627.5"/>
<path class="l" d="M445.8,576.5 C443.6,577.6 437.1,580.5 432.7,583.1 C428.4,585.7 423.6,589 419.7,592.2 C415.8,595.5 412.7,599.2 409.2,602.7 C405.7,606.2 401.8,610.4 398.8,613.1 C395.7,615.9 393.3,617.8 390.9,619 C388.5,620.2 386.2,620.7 384.4,620.3 C382.5,620 380.9,619.1 379.8,617.1 C378.7,615 378.2,609.4 377.8,607.9"/>
<path class="l" d="M382.4,613.1 C383.6,612.6 386.8,610.3 389.6,609.9 C392.4,609.4 397.8,610.4 399.4,610.5"/>
<path class="l" d="M409.2,607.9 C410.4,607 416.8,604.5 418.4,604.2 C419.9,604 421.2,603.9 422.3,605.9 C423.4,608 427.1,619.3 427.5,621.6 C428,624 427.3,625.4 426.2,626.2 C425.1,627 419.7,628.2 418.4,628.2 C417,628.2 415.6,628.1 414.4,626.2 C413.3,624.3 409.2,614 408.6,611.8 C408,609.7 408.1,608.8 409.2,607.9 Z"/>
<ellipse class="l" style="stroke-width:1.9" cx="451.7" cy="602.9" rx="22.2" ry="20.7"/>
<ellipse class="l" style="stroke-width:1.9" cx="455.6" cy="602.7" rx="18.3" ry="20.3"/>
<ellipse class="l" style="stroke-width:1.9" cx="455.6" cy="602" rx="7.8" ry="8.9"/>
<path class="k" d="M441.2,621.6 L445.8,620.3 L451,627.5 L445.2,630.1 L441.2,627.5 Z"/>
<path class="l" style="stroke-width:1.9" d="M451,627.5 C452.8,627.1 458,626 461.5,624.9 C465,623.8 469.8,622.3 472,621 C474.1,619.7 474.6,618 474.6,617.1 C474.6,616.1 472.4,615.4 472,615.1"/>
<path class="l" style="stroke-width:1.9" d="M445.2,630.8 C447.9,630.3 456.6,629.2 461.5,628.2 C466.4,627.2 471.6,626.3 474.6,624.9 C477.5,623.5 478.9,621.2 479.2,619.7 C479.4,618.1 477.3,616.3 475.9,615.8 C474.5,615.2 471.5,616.3 470.7,616.4"/>
<path class="l" style="stroke-width:1.9" d="M370,641.2 C372.2,640.3 377.6,637 383.1,635.4 C388.5,633.7 396.1,632.2 402.7,631.4 C409.2,630.7 416.8,630.6 422.3,630.8 C427.7,631 431.9,631.8 435.4,632.7 C438.8,633.7 441.9,636 443.2,636.7"/>
<path class="l" style="stroke-width:1.9" d="M370,645.8 C372.2,644.7 377.6,641 383.1,639.3 C388.5,637.5 396.1,636.1 402.7,635.4 C409.2,634.6 417.3,634.6 422.3,634.7 C427.3,634.8 429.7,635.3 432.7,636 C435.8,636.8 439.3,638.7 440.6,639.3"/>
<path class="l" style="stroke-width:1.9" d="M406.6,658.9 C409.2,657.1 416.4,651.7 422.3,648.4 C428.2,645.2 435.4,642.1 441.9,639.3 C448.4,636.4 456.1,633.6 461.5,631.4 C466.9,629.3 472.4,627.1 474.6,626.2"/>
<path class="l" style="stroke-width:1.9" d="M409.2,661.5 C411.8,659.9 419.2,654.7 424.9,651.7 C430.6,648.6 437.1,645.9 443.2,643.2 C449.3,640.5 455.8,638 461.5,635.4 C467.2,632.7 474.6,628.8 477.2,627.5"/>
<path class="l" d="M393.5,655 C393.4,653.7 392.2,649.3 392.9,647.1 C393.5,644.9 394.7,643.3 397.5,641.9 C400.2,640.5 405.1,639.3 409.2,638.6 C413.4,638 419.2,637.5 422.3,638 C425.3,638.4 426.6,640.7 427.5,641.2"/>
<path class="l" d="M409.2,639.3 L414.4,647.1"/>
<path class="l" d="M370,607.9 C370.4,610.3 371.4,617.7 372.6,622.3 C373.8,626.9 376.4,633.2 377.2,635.4"/>
<path class="l" d="M370,648.4 C371.1,650.4 375.2,656.6 376.5,660.2 C377.8,663.8 377.6,668.4 377.8,670"/>
<path class="l" d="M381.8,645.8 C382.6,648.2 385.7,656.2 387,660.2 C388.3,664.2 389.2,668.4 389.6,670"/>
<path class="l" d="M417.8,418.8 L438.8,567.1"/>
<path class="w" d="M439.9,575 L436.4,567.4 L441.2,566.7 Z"/>
<path class="l" d="M485.5,506.8 C487.4,507.9 493.2,510.8 496.8,513.3 C500.5,515.8 504.1,519.3 507.3,522 C510.5,524.8 513.2,527.4 516,529.9 C518.8,532.3 522.5,535.7 523.8,536.8"/>
<path class="l" d="M482.9,511.6 C484.8,512.6 490.7,515.3 494.2,517.7 C497.7,520 500.8,522.9 503.8,525.5 C506.9,528.1 509.5,530.3 512.5,533.3 C515.5,536.4 520.1,542.1 521.7,543.8"/>
<path class="l" d="M455,512.4 C457.2,512.8 463.7,513.3 468.1,514.6 C472.4,515.9 477.1,518.2 481.1,520.3 C485.2,522.4 489,524.8 492.5,527.2 C496,529.7 499.3,532.3 502.1,535.1 C504.8,537.8 506.7,540.9 509,543.8 C511.4,546.7 514.8,551.1 516,552.5"/>
<path class="l" d="M484.6,506.3 C486.9,506.1 502.3,504.2 507.3,503.7 C512.3,503.2 532.2,501.4 535,501.1"/>
<path class="l" d="M496.8,511.6 C498.6,511.4 503.8,510.5 507.3,510.7 C510.8,510.9 514.3,511.7 517.7,512.9 C521.2,514 526.2,516.4 528.2,517.7 C530.2,519 530.5,519.9 529.9,520.7 C529.4,521.5 527.6,521.9 524.7,522.5 C521.8,523 514.5,523.9 512.5,524.2"/>
<path class="l" d="M458.5,517.7 C459.4,517.4 461.7,516.1 463.7,515.9 C465.7,515.7 467.8,515.5 470.7,516.4 C473.6,517.2 477.7,519.3 481.1,521.1 C484.6,523 489.9,526.6 491.6,527.7"/>
<path class="l" d="M458.5,517.7 C460.1,518.7 464.6,522.2 468.1,523.8 C471.6,525.4 475.3,526.4 479.4,527.2 C483.5,528 490.3,528.3 492.5,528.6"/>
<path class="l" d="M468.1,523.8 C469.5,525.1 474.2,529.4 476.8,531.6 C479.4,533.8 480.6,535.1 483.8,536.8 C487,538.6 493.9,541.2 496,542.1"/>
<!-- 06_dashE.py -->
<path class="l" d="M585.9,480 L580,494.1"/>
<path class="w" d="M577.3,500.6 L577.9,493.3 L582,495 Z"/>
<path class="l" d="M630,498 C628.9,498.2 628.5,498.6 623.1,498.8 C617.7,499.1 601.9,499.5 597.6,499.6"/>
<path class="l" d="M480,505.5 C486.5,504.8 504.5,502.6 519.2,501.6 C533.9,500.5 551.9,499.7 568.2,499.2 C584.6,498.7 605.8,498.6 617.3,498.6 C628.7,498.7 629.7,499 636.9,499.6 C644,500.3 656.1,502.1 660,502.5"/>
<path class="l" style="stroke-width:1.9" d="M520.2,507.5 C521.9,506.9 531.1,505.1 538.8,504.5 C546.6,503.9 589.8,501.5 597.6,501.2 C605.5,500.8 613.9,500.8 617.3,501.2 C620.6,501.5 629.2,503.7 631,504.5 C632.7,505.3 635.9,508.6 634.9,509.4 C633.9,510.2 628.4,511.5 621.2,512.4 C613.9,513.2 570,517.9 562.4,518.2 C554.7,518.5 548.7,516.1 544.7,515.3 C540.7,514.5 524.6,511.2 522.2,510.4 C519.7,509.6 518.5,508 520.2,507.5 Z"/>
<path class="l" d="M525.1,509 L562.4,516.3 L617.3,509.4"/>
<ellipse class="l" cx="643.7" cy="504.5" rx="10.8" ry="2.4"/>
<path class="l" d="M533.9,513.3 L530,532.9"/>
<path class="l" d="M558.4,518.2 L548.6,552.5"/>
<path class="l" d="M558.4,527.1 L617.3,521.2"/>
<path class="l" d="M621.2,512.4 C620.4,514.8 617.1,526.9 615.3,531 C613.5,535 609.8,540.5 607.5,542.7 C605.1,545 599,547 597.6,547.6"/>
<path class="l" d="M597.6,547.6 L558.4,553.5 L538.8,557.5"/>
<ellipse class="l" style="stroke-width:1.9" cx="537.8" cy="543.7" rx="10.8" ry="13.7"/>
<ellipse class="l" style="stroke-width:1.9" cx="538" cy="544.9" rx="3.9" ry="5.3"/>
<path class="l" style="stroke-width:1.9" d="M534.9,544.7 C533.3,545.2 527.5,545.7 525.1,547.6 C522.6,549.6 520.7,552.4 520.2,556.5 C519.7,560.6 520.7,565.3 522.2,572.2 C523.6,579 526.9,588 529,597.6 C531.1,607.3 533.9,624.6 534.9,630"/>
<path class="l" style="stroke-width:1.9" d="M538.4,547.6 C536.7,548.1 530.5,548.6 528,550.2 C525.6,551.8 524,553.8 523.5,557.5 C523.1,561.1 524,565.5 525.5,572.2 C527,578.9 530.2,588 532.4,597.6 C534.5,607.3 537.3,624.6 538.2,630"/>
<path class="l" d="M538.8,560.4 L597.6,549.6"/>
<path class="l" d="M538.8,560.4 C539.8,563.3 543.1,571.8 544.7,578 C546.3,584.2 547.8,589 548.6,597.6 C549.4,606.3 549.4,624.6 549.6,630"/>
<path class="l" d="M597.6,549.6 C598.3,553.7 601.1,566.1 601.6,574.1 C602.1,582.1 601.6,591.1 600.6,597.6 C599.6,604.2 598.8,609.1 595.7,613.3 C592.6,617.6 589.5,620.4 582,623.1 C574.4,625.9 555.8,628.9 550.6,630"/>
<path class="l" d="M566.3,558.4 L572.2,576.1 L546.7,582"/>
<path class="l" d="M572.2,559.4 L590.8,556.5 L595.7,571.2 L577.1,575.7 Z"/>
<path class="l" d="M547.6,586.9 L599.6,577.1"/>
<path class="l" d="M549.6,591.8 L593.7,582 L594.7,607.5 L550.6,621.2"/>
<path class="l" d="M550.6,626.1 L595.7,613.3"/>
<path class="l" d="M601.6,574.1 C602,573.6 602.4,570.3 605.5,569.2 C608.6,568.1 627.5,564.4 632.9,563.3 C638.4,562.3 657.3,558.9 660,558.4"/>
<path class="l" d="M582,625.1 C587.8,623.5 606.5,618.2 617.3,615.3 C628,612.4 639.5,610.1 646.7,607.5 C653.8,604.8 657.8,600.9 660,599.6"/>
<path class="l" d="M619.2,593.7 L629,576.1 L646.7,571.2 L640.8,583.9 L634.9,586.9"/>
<path class="l" d="M629,591.8 C629.3,590.1 630,584.4 631,582 C632,579.5 634.2,577.9 634.9,577.1"/>
<path class="l" d="M632,592.2 C632.2,590.6 632.7,585.3 633.5,582.9 C634.3,580.6 636.3,578.9 636.9,578"/>
<path class="k" style="stroke-width:1.9" d="M627.1,593.7 L633.9,590.8 L634.9,599.6 L628,602.5 Z"/>
<path class="l" d="M637.8,610.4 L637.8,630"/>
<path class="l" d="M515.7,551.4 C514.6,549.8 511.6,544.2 509.2,542.2 C506.8,540.2 503.7,538.8 501.4,539.4 C499.1,540.1 496,542.8 495.5,546.1 C494.9,549.4 496.6,554.4 498,559.2 C499.4,564 502.1,571.9 503.9,574.9 C505.8,577.9 508.3,577 509.2,577.5"/>
<circle class="l" cx="509.2" cy="554.7" r="5.3"/>
<path class="l" d="M516.3,566.3 L509.4,567.3 L510.4,574.1"/>
<path class="l" d="M501.6,583.9 C501.6,581.5 508,582 509.4,582 C510.8,582 512.2,582.1 513.3,583.9 C514.5,585.8 518.8,595.6 519.2,597.6 C519.7,599.7 518.4,601 517.3,601.6 C516.1,602.1 511.2,604.6 509.4,602.5 C507.6,600.5 501.6,586.3 501.6,583.9 Z"/>
<path class="l" d="M480,566.3 C483.3,567.6 492.6,571.5 499.6,574.1 C506.6,576.7 518.4,580.7 522.2,582"/>
<path class="l" d="M509.4,630 C509.7,627.5 509.7,619.4 511.4,615.3 C513,611.2 516.3,607.8 519.2,605.5 C522.2,603.2 527.4,602.2 529,601.6"/>
<path class="l" d="M517.3,605.5 C517.9,607.5 519.5,613.2 521.2,617.3 C522.8,621.3 526.1,627.9 527.1,630"/>
<path class="l" d="M538.8,601.6 C539.8,603.5 543.9,608.6 544.7,613.3 C545.5,618.1 543.9,627.2 543.7,630"/>
<path class="l" d="M532.9,562.4 C533.6,564 536.5,568.9 536.9,572.2 C537.2,575.4 535.2,580.3 534.9,582"/>
<path class="l" d="M699.2,447.3 C695.5,449.9 684.3,457.9 677.1,463.3 C669.8,468.8 661.7,475.3 655.5,480 C649.3,484.7 644.1,489 639.8,491.8 C635.6,494.5 631.6,495.8 630,496.7"/>
<path class="l" d="M699.6,488.8 C697.5,490.3 690.5,494.5 686.9,497.6 C683.3,500.8 679.5,505.8 678,507.5"/>
<path class="l" d="M630,499.6 C633.3,499.9 643.1,500.6 649.6,501.6 C656.1,502.5 664,504 669.2,505.5 C674.4,507 677.7,507.9 681,510.4 C684.2,512.8 686.2,515.9 688.8,520.2 C691.4,524.4 695,531.6 696.7,535.9 C698.3,540.1 698.8,542.9 698.6,545.7 C698.5,548.5 697,549 695.7,552.5 C694.4,556.1 693.2,562.7 690.8,567.3 C688.3,571.8 682.6,577.9 681,580"/>
<path class="l" d="M695.7,552.5 C691.3,553 680.2,553.7 669.2,555.5 C658.3,557.3 636.5,562 630,563.3"/>
<path class="l" d="M686.9,555.5 C686,557.5 683.6,563.2 681.8,567.3 C679.9,571.3 676.9,577.9 675.9,580"/>
<path class="l" d="M661.4,523.1 C663.4,522.5 678.6,520.1 681,520.2 C683.3,520.3 683.8,522.2 684.9,524.1 C686,526.1 691.3,537.8 691.8,539.8 C692.3,541.8 691.9,543.1 689.8,543.7 C687.7,544.3 673.4,545.8 671.2,545.7 C668.9,545.6 668.3,544.6 667.3,542.7 C666.2,540.9 661,529 660.4,527.1 C659.8,525.1 659.3,523.8 661.4,523.1 Z"/>
<path class="l" d="M630,575.1 L647.6,570.2 L643.7,580"/>
<path class="l" d="M685.5,560 C684.2,562.6 680.9,570.5 677.6,575.7 C674.4,580.9 670.1,586.8 665.9,591.4 C661.6,595.9 656.1,600.2 652.2,603.1 C648.2,606.1 645.1,607.9 642.4,609 C639.6,610.2 636.6,609.8 635.5,610"/>
<path class="l" d="M695.3,560 C694,562.3 691,568.8 687.5,573.7 C683.9,578.6 678.6,584.7 673.7,589.4 C668.8,594.2 662.6,599 658,602.2 C653.5,605.4 648.2,607.5 646.3,608.6"/>
<path class="l" d="M635.5,610 C633.7,610.5 612.5,615.8 609,616.9 C605.6,617.9 586.8,624.6 583.5,625.7 C580.3,626.7 561.6,632.1 560,632.5"/>
<path class="l" d="M638.4,610.6 C638.3,612.5 636.9,620.7 637.5,624.7 C638,628.7 640.4,636.9 642.4,640.4 C644.3,643.9 649.5,649 652.2,651.2 C654.8,653.3 655.3,653.8 662,656.5 C668.6,659.2 696.8,669.4 702.2,671.4"/>
<path class="l" d="M601.2,571.8 C601.8,571.5 603.3,569.7 607.1,568.8 C610.8,567.9 633.7,563.8 638.4,562.9 C643.1,562.1 652.5,560.3 654.1,560"/>
<path class="l" d="M601.2,571.8 C601.3,574.1 602.6,580.6 602.2,585.5 C601.7,590.4 599.7,596.9 598.2,601.2 C596.8,605.4 595.8,608 593.3,611 C590.9,613.9 589.1,616.2 583.5,618.8 C578,621.4 563.9,625.4 560,626.7"/>
<path class="l" d="M560,618.8 C563.3,617.8 574.7,614.9 579.6,612.9 C584.5,611 587,610 589.4,607.1 C591.9,604.1 593.2,599.9 594.3,595.3 C595.5,590.7 596.1,585.5 596.3,579.6 C596.4,573.7 595.5,563.3 595.3,560"/>
<path class="l" d="M571.8,560 L577.6,575.7 L595.3,570.8"/>
<path class="l" d="M560,588.4 L596.3,579.6"/>
<path class="l" d="M618.8,593.3 L629.6,575.7 L647.3,570.8 L642.4,581.6 L636.5,586.5"/>
<path class="k" style="stroke-width:1.9" d="M626.7,593.3 L633.5,591.4 L634.9,600.2 L628.6,602.7 Z"/>
<path class="l" d="M629.6,589.4 C629.8,588.1 629.8,583.7 630.6,581.6 C631.4,579.4 633.9,577.5 634.5,576.7"/>
<path class="l" d="M632.5,589.4 C632.7,588.3 632.9,584.3 633.5,582.5 C634.2,580.8 636,579.3 636.5,578.6"/>
<path class="l" d="M560,669.8 C562,669.3 568.2,667.5 571.8,666.9 C575.4,666.2 579.4,665.1 581.6,665.9 C583.7,666.7 584.2,669.2 584.5,671.8 C584.8,674.4 584.7,677.3 583.5,681.6 C582.4,685.8 578.8,692.5 577.6,697.3 C576.5,702 576.8,707.9 576.7,710"/>
<path class="l" d="M560,628.6 L575.7,626.7 L577.6,630.6 L569.8,638.4 L560,641.4"/>
<circle class="l" cx="562.9" cy="635.5" r="3.5"/>
<path class="l" d="M688.8,599 L643.8,596.6"/>
<path class="w" d="M636.8,596.2 L643.9,594.4 L643.7,598.8 Z"/>
<path class="l" d="M634.6,686 L550.4,647.4"/>
<path class="w" d="M544,644.5 L551.3,645.4 L549.4,649.4 Z"/>
<!-- 07_dashF.py -->
<path class="l" style="stroke-width:1.9" d="M440,638.6 C443.3,637.5 454.1,633.9 459.6,631.8 C465.2,629.6 470.4,627.8 473.3,625.9 C476.3,623.9 476.6,621 477.3,620"/>
<path class="l" style="stroke-width:1.9" d="M440,642.5 C443.6,641.4 455.5,638 461.6,635.7 C467.6,633.4 473.2,631.4 476.3,628.8 C479.4,626.2 479.5,621.5 480.2,620"/>
<path class="l" style="stroke-width:1.9" d="M447.8,641.6 C449.2,643.5 453.1,648.8 455.7,653.3 C458.3,657.9 461.2,663.5 463.5,669 C465.8,674.6 468.1,681.8 469.4,686.7 C470.7,691.6 471,696.5 471.4,698.4"/>
<path class="l" style="stroke-width:1.9" d="M451.8,639.6 C453.1,641.6 457,646.8 459.6,651.4 C462.2,655.9 465.2,661.5 467.5,667.1 C469.7,672.6 472,679.6 473.3,684.7 C474.6,689.8 475,695.3 475.3,697.5"/>
<path class="l" style="stroke-width:1.9" d="M442.7,677.8 C443,679.2 443.3,682.6 444.3,685.7 C445.3,688.8 446.3,693.7 448.8,696.5 C451.4,699.2 455.2,701.7 459.6,702.4 C464,703 468.8,702 475.3,700.4 C481.8,698.8 491.6,695.5 498.8,692.5 C506,689.6 513.5,686.3 518.4,682.7 C523.3,679.2 525.8,675.2 528.2,671 C530.7,666.7 532,661.2 533.1,657.3 C534.3,653.3 534.8,649.1 535.1,647.5"/>
<path class="l" style="stroke-width:1.9" d="M476.3,695.5 C480,694.2 492.1,690.4 498.8,687.6 C505.5,684.9 512.1,681.9 516.5,678.8 C520.9,675.7 523,672.9 525.3,669 C527.6,665.1 529.1,658.9 530.2,655.3 C531.3,651.7 531.8,648.8 532.2,647.5"/>
<circle class="l" style="stroke-width:1.9" cx="456.7" cy="685.7" r="4.9"/>
<circle class="l" cx="456.7" cy="685.7" r="2.2"/>
<path class="l" style="stroke-width:1.9" d="M492,672.9 C492.5,671.3 492.8,665.4 494.9,663.1 C497,660.8 502.1,658.9 504.7,659.2 C507.3,659.5 509.9,662.8 510.6,665.1 C511.2,667.4 510.6,670.3 508.6,672.9 C506.7,675.6 504.1,678.2 498.8,680.8 C493.6,683.4 480.8,687.3 477.3,688.6"/>
<path class="l" style="stroke-width:1.9" d="M495.9,678.8 C496,676.9 495.6,669.7 496.9,667.1 C498.2,664.4 501.9,663.1 503.7,663.1 C505.5,663.1 507.3,665.4 507.6,667.1 C508,668.7 506,672 505.7,672.9"/>
<path class="l" d="M491,653.3 C493.3,653.5 500.8,653.3 504.7,654.3 C508.6,655.3 512.2,656.8 514.5,659.2 C516.8,661.7 518.1,666.1 518.4,669 C518.8,672 516.8,675.6 516.5,676.9"/>
<path class="k" style="stroke-width:1.9" d="M531.2,635.7 L537.1,632.7 L542.9,636.7 L542,647.5 L536.1,649.4 L531.2,645.5 Z"/>
<path class="l" d="M531.2,635.7 L536.5,639.2 L542.9,636.7"/>
<path class="l" d="M536.5,639.2 L536.1,649.4"/>
<path class="l" style="stroke-width:1.9" d="M534.1,620 L536.1,632.7"/>
<path class="l" style="stroke-width:1.9" d="M538,620 L540,633.7"/>
<path class="l" d="M549.8,645.5 C550.8,647.8 553.1,655.6 555.7,659.2 C558.3,662.8 563.9,665.8 565.5,667.1"/>
<path class="l" d="M543.9,647.5 C545.2,650.1 550.1,657.9 551.8,663.1 C553.4,668.4 553.4,676.2 553.7,678.8"/>
<circle class="l" style="stroke-width:1.9" cx="558.6" cy="678.8" r="4.9"/>
<path class="l" style="stroke-width:1.9" d="M559.6,672.9 C560.4,672.3 562.9,669 565.5,668 C568.1,667 576.6,665.1 579.2,665.5 C581.8,665.9 584.4,668.9 585.1,671 C585.8,673 585.2,677.1 584.1,680.8 C583.1,684.4 578.4,694.5 577.3,698.4 C576.1,702.4 576.6,708.5 575.3,710.2 C574,711.9 568.8,712.7 567.5,711.2 C566.1,709.6 566.3,702 565.5,698.4 C564.7,694.9 562.1,686.5 561.6,684.7"/>
<path class="l" style="stroke-width:1.9" d="M567.5,711.2 L567.5,722"/>
<path class="l" style="stroke-width:1.9" d="M574.3,710.2 L573.3,725.9"/>
<path class="l" d="M544.9,718 C545.4,717.6 547.7,714.9 549.8,714.1 C551.9,713.3 563.9,710.6 565.5,710.2"/>
<path class="l" style="stroke-width:1.9" d="M577.3,708.2 C580.4,710.3 611.6,730.1 614.5,732.7 C617.5,735.4 614,738.4 612.5,739.6 C611.1,740.8 598.8,746.8 596.9,747.5 C594.9,748.1 593.3,749.6 589,747.5 C584.8,745.3 549.6,724.4 545.9,722 C542.2,719.5 545,718.4 544.9,718"/>
<path class="l" style="stroke-width:1.9" d="M560.6,717.1 C560.9,716.5 562.5,712.6 565.5,714.1 C568.5,715.7 594.2,733.6 596.9,735.7 C599.6,737.8 598.2,739.1 597.8,739.6 C597.5,740.1 596,743.1 592.9,741.6 C589.9,740 564.3,723 561.6,721 C558.9,718.9 560.3,717.6 560.6,717.1 Z"/>
<path class="l" d="M504.7,695.5 C506.1,694.9 514.9,691.1 518.4,689.6 C522,688.1 536.3,682.1 540,680.8 C543.7,679.5 554.1,677.3 555.7,676.9"/>
<path class="l" d="M502.7,697.5 C503.5,698.4 506,702.5 508.6,704.3 C511.2,706.1 519,710.3 522.4,711.2 C525.8,712.1 529.4,712.6 534.1,711.2 C538.8,709.7 553.5,702.1 557.6,700.4 C561.8,698.7 564.4,698.7 565.5,698.4"/>
<path class="l" d="M540,680.8 L540,687.6 L557.6,699.4"/>
<path class="l" d="M506.7,698.4 L540,687.6"/>
<path class="l" d="M579.2,696.5 C581,698 592.8,708.6 596.9,712.2 C600.9,715.7 617.7,729.8 620,731.8"/>
<path class="l" d="M440,703.3 C443.3,703.8 453.7,702.5 459.6,706.3 C465.5,710 468.8,719.3 475.3,725.9 C481.8,732.4 490,739.9 498.8,745.5 C507.6,751 519.7,755.1 528.2,759.2 C536.7,763.3 546.2,768.2 549.8,770"/>
<path class="l" d="M502.7,697.5 C504.3,699.4 510.3,708.1 514.5,712.2 C518.7,716.2 529.4,724.4 534.1,727.8 C538.8,731.2 544.1,734.2 549.8,737.6 C555.6,741 571,750.2 577.3,753.3 C583.5,756.5 591.2,761.2 596.9,761.2 C602.6,761.2 616.9,754.4 620,753.3"/>
<path class="l" d="M545.9,620 C546,621.2 545.7,630.4 546.9,631.8 C548,633.1 554.2,634.3 557.6,633.7 C561.1,633.1 578.4,627.3 581.2,625.9 C583.9,624.5 584.7,620.6 585.1,620"/>
<circle class="l" cx="563.1" cy="635.7" r="3.5"/>
<path class="l" d="M549.8,643.5 L577.3,636.7 L596.9,629.8"/>
<path class="l" d="M510.6,620 C510.9,622 511.2,628.2 512.5,631.8 C513.9,635.4 516.1,639 518.4,641.6 C520.7,644.2 525,646.5 526.3,647.5"/>
<path class="l" d="M526.3,647.5 L514.5,656.3"/>
<path class="l" d="M522.4,620 C523,622 525.5,628.5 526.3,631.8 C527.1,635 527.1,638.3 527.3,639.6"/>
<path class="l" d="M585.8,780.6 L521.3,696.6"/>
<path class="w" d="M517,691 L523,695.2 L519.5,697.9 Z"/>
<path class="l" d="M591.5,837.7 L485.6,681.5"/>
<path class="w" d="M481.7,675.7 L487.4,680.3 L483.8,682.7 Z"/>
<path class="l" d="M493.5,767 C492.1,763.3 488.6,753.7 485,745 C481.4,736.3 476.4,724.1 472,715 C467.6,705.9 460.8,694.7 458.6,690.6"/>
<path class="w" d="M458.6,690.6 L463.8,695.7 L459.9,697.8 Z"/>
<path class="l" d="M627.7,744.3 L665.9,770.3"/>
<path class="l" style="stroke-width:1.9" d="M434.2,655.7 L466.3,644.6 L489.2,656.3 L489.2,668.1 L470.2,674.6"/>
<path class="l" style="stroke-width:1.9" d="M489.2,656.3 L458.4,664.2 L448,660.9"/>
<path class="l" style="stroke-width:1.9" d="M458.4,664.2 L457.8,675.9"/>
<path class="l" d="M434.2,655.7 L440.1,658.3"/>
<path class="k" style="stroke-width:1.9" d="M425.8,663.5 L434.9,659.6 L448,665.5 L441.4,670.7 Z"/>
<path class="k" style="stroke-width:1.9" d="M425.8,663.5 L427.1,669.4 L441.4,677.3 L441.4,670.7 Z"/>
<path class="l" style="stroke-width:1.9" d="M448,665.5 L448.6,672.7 L441.4,677.3"/>
<path class="k" style="stroke-width:1.9" d="M394.4,664.2 L401.6,658.3 L410.1,661.6 L411.4,666.1 L403.5,672 L395.7,671.4 Z"/>
<path class="l" d="M401.6,658.3 L402.9,665.5 L411.4,666.1"/>
<path class="l" d="M402.9,665.5 L395.7,671.4"/>
<path class="l" d="M380,670.1 C382.2,671.2 387.6,672.9 393.1,676.6 C398.5,680.3 406.1,688.3 412.7,692.3 C419.2,696.3 424.7,698.8 432.3,700.8 C439.9,702.7 451.9,703.7 458.4,704.1 C465,704.4 469.3,703 471.5,702.7"/>
<path class="l" d="M404.8,674.6 C406.8,676.1 412.5,680.7 416.6,683.1 C420.7,685.5 426.2,688.7 429.7,689 C433.2,689.3 436.2,685.8 437.5,685.1"/>
<path class="l" d="M385.2,677.9 C387,678 391.1,676.6 395.7,678.6 C400.3,680.5 409.8,687.8 412.7,689.7"/>
<path class="l" style="stroke-width:1.9" d="M380,670.7 L394.4,668.1"/>
<path class="l" style="stroke-width:1.9" d="M380,674 L395.7,671.4"/>
<path class="l" d="M393.1,642.6 C393.3,643.9 393.7,648.3 394.4,650.5 C395,652.6 396.6,654.8 397,655.7"/>
<path class="l" d="M403.5,640 C405.1,640.4 410.7,641.3 412.7,642.6 C414.6,643.9 414.9,647 415.3,647.8"/>
<path class="l" style="stroke-width:1.9" d="M446,677.9 C446.4,679.2 446.7,683.1 448.2,685.8 C449.8,688.4 452.4,691.5 455.2,693.6 C458,695.7 461.4,697.8 465,698.2 C468.5,698.5 474.4,696 476.3,695.6"/>
<path class="l" d="M419.2,736.7 L432.5,683.4"/>
<path class="w" d="M434.2,676.6 L434.6,683.9 L430.4,682.9 Z"/>
<path class="l" d="M620,731.8 C621.1,732.6 625.1,734.6 626.9,736.7 C628.7,738.7 630.9,741.9 630.8,743.9 C630.6,745.9 627.7,747.3 625.9,748.8 C624.1,750.3 621,752.3 620,752.9"/>
<path class="l" d="M520,754.7 C522.6,756 530,759.5 535.7,762.5 C541.4,765.6 551.2,771 554.3,772.7"/>
<!-- 08_leaders.py -->
<path class="l" d="M643.2,117 L639.7,170"/>
<path class="l" d="M498,169.6 L507,190"/>
<path class="l" d="M707.8,167.7 L706.3,170"/>
<path class="l" d="M601.8,438.3 L585.9,480"/>
<g class="t">
<text x="142.2" y="111.3" textLength="110.5" lengthAdjust="spacingAndGlyphs" class="b">SRS INDICATOR LIGHT</text>
<text x="257.0" y="111.3" textLength="113.5" lengthAdjust="spacingAndGlyphs" class="n">(in the gauge assembly)</text>
<text x="595.0" y="114.3" textLength="86.8" lengthAdjust="spacingAndGlyphs" class="b">To HORN SWITCH</text>
<text x="464.1" y="141.0" textLength="59.2" lengthAdjust="spacingAndGlyphs" class="b">CABLE REEL</text>
<text x="666.0" y="152.1" textLength="103.2" lengthAdjust="spacingAndGlyphs" class="b">To CRUISE CONTROL</text>
<text x="666.0" y="163.7" textLength="109.0" lengthAdjust="spacingAndGlyphs" class="b">SET/RESUME SWITCH</text>
<text x="670.9" y="357.0" textLength="102.9" lengthAdjust="spacingAndGlyphs" class="b">To DRIVER'S AIRBAG</text>
<text x="181.8" y="393.1" textLength="144.8" lengthAdjust="spacingAndGlyphs" class="b">DASHBOARD WIRE HARNESS</text>
<text x="181.8" y="404.7" textLength="136.6" lengthAdjust="spacingAndGlyphs" class="b">to SRS INDICATOR LIGHT in</text>
<text x="181.8" y="416.4" textLength="95.5" lengthAdjust="spacingAndGlyphs" class="b" transform="translate(0,416.4) scale(1,0.8) translate(0,-416.4)">GAUGE ASSEMBLY</text>
<text x="181.8" y="428.5" textLength="78.9" lengthAdjust="spacingAndGlyphs" class="b">5P CONNECTOR</text>
<text x="371.5" y="379.5" textLength="87.3" lengthAdjust="spacingAndGlyphs" class="b">DRIVER'S AIRBAG</text>
<text x="558.2" y="411.0" textLength="150.0" lengthAdjust="spacingAndGlyphs" class="b" transform="rotate(-0.8 633.2 411.0)">FRONT PASSENGER'S AIRBAG</text>
<text x="140.6" y="523.0" textLength="101.4" lengthAdjust="spacingAndGlyphs" class="b">SRS MAIN HARNESS</text>
<text x="140.6" y="535.0" textLength="72.4" lengthAdjust="spacingAndGlyphs" class="b">to CABLE REEL</text>
<text x="140.6" y="547.0" textLength="78.1" lengthAdjust="spacingAndGlyphs" class="b">2P CONNECTOR</text>
<text x="689.7" y="602.5" textLength="79.1" lengthAdjust="spacingAndGlyphs" class="b">SERVICE CHECK</text>
<text x="689.7" y="614.2" textLength="84.6" lengthAdjust="spacingAndGlyphs" class="b">CONNECTOR (2P)</text>
<text x="689.7" y="626.0" textLength="52.6" lengthAdjust="spacingAndGlyphs" class="b">[BRN, BLK]</text>
<text x="126.3" y="700.0" textLength="101.0" lengthAdjust="spacingAndGlyphs" class="b">SRS MAIN HARNESS</text>
<text x="126.3" y="711.9" textLength="79.4" lengthAdjust="spacingAndGlyphs" class="b">to UNDER-DASH</text>
<text x="126.3" y="723.9" textLength="87.7" lengthAdjust="spacingAndGlyphs" class="b">FUSE/RELAY BOX</text>
<text x="126.3" y="735.9" textLength="78.2" lengthAdjust="spacingAndGlyphs" class="b">2P CONNECTOR</text>
<text x="357.7" y="745.9" textLength="101.2" lengthAdjust="spacingAndGlyphs" class="b">SRS MAIN HARNESS</text>
<text x="357.7" y="757.4" textLength="59.7" lengthAdjust="spacingAndGlyphs" class="b">to SRS UNIT</text>
<text x="357.7" y="769.6" textLength="83.8" lengthAdjust="spacingAndGlyphs" class="b">18P CONNECTOR</text>
<text x="211.0" y="804.1" textLength="101.2" lengthAdjust="spacingAndGlyphs" class="b">SRS MAIN HARNESS</text>
<text x="211.0" y="816.0" textLength="39.6" lengthAdjust="spacingAndGlyphs" class="b">to MAIN</text>
<text x="211.0" y="828.2" textLength="76.5" lengthAdjust="spacingAndGlyphs" class="b">WIRE HARNESS</text>
<text x="211.0" y="840.4" textLength="78.0" lengthAdjust="spacingAndGlyphs" class="b">3P CONNECTOR</text>
<text x="339.7" y="804.1" textLength="122.0" lengthAdjust="spacingAndGlyphs" class="b">MEMORY ERASE SIGNAL</text>
<text x="339.7" y="816.0" textLength="116.5" lengthAdjust="spacingAndGlyphs" class="b">(MES) CONNECTOR (2P)</text>
<text x="339.7" y="827.6" textLength="128.1" lengthAdjust="spacingAndGlyphs" class="b">[GRY, GRY] or [GRN, GRN]</text>
<text x="299.7" y="864.5" textLength="107.1" lengthAdjust="spacingAndGlyphs" class="b">MAIN WIRE HARNESS</text>
<text x="299.7" y="876.4" textLength="157.4" lengthAdjust="spacingAndGlyphs" class="b">to DASHBOARD WIRE HARNESS</text>
<text x="299.7" y="888.6" textLength="84.2" lengthAdjust="spacingAndGlyphs" class="b">24P CONNECTOR</text>
<text x="636.1" y="692.1" textLength="102.2" lengthAdjust="spacingAndGlyphs" class="b">SRS MAIN HARNESS</text>
<text x="636.1" y="705.1" textLength="121.3" lengthAdjust="spacingAndGlyphs" class="b">to FRONT PASSENGER'S</text>
<text x="636.1" y="716.2" textLength="38.5" lengthAdjust="spacingAndGlyphs" class="b">AIRBAG</text>
<text x="636.1" y="729.1" textLength="79.3" lengthAdjust="spacingAndGlyphs" class="b">2P CONNECTOR</text>
<text x="483.4" y="778.5" textLength="46.8" lengthAdjust="spacingAndGlyphs" class="b">SRS UNIT</text>
<text x="483.4" y="790.3" textLength="45.2" lengthAdjust="spacingAndGlyphs" class="b">GROUND</text>
<text x="581.2" y="790.0" textLength="49.6" lengthAdjust="spacingAndGlyphs" class="b">SRS MAIN</text>
<text x="581.2" y="802.2" textLength="48.5" lengthAdjust="spacingAndGlyphs" class="b">HARNESS</text>
<text x="565.8" y="849.3" textLength="47.4" lengthAdjust="spacingAndGlyphs" class="b">SRS UNIT</text>
<text x="566.7" y="860.6" textLength="114.4" lengthAdjust="spacingAndGlyphs" class="n">(Including safing sensor</text>
<text x="566.7" y="872.1" textLength="91.5" lengthAdjust="spacingAndGlyphs" class="n">and impact sensor)</text>
</g>
<rect x="209" y="793" width="105" height="6" fill="#000"/><rect x="338" y="793" width="126" height="6" fill="#000"/>
</svg>
</body></html>
